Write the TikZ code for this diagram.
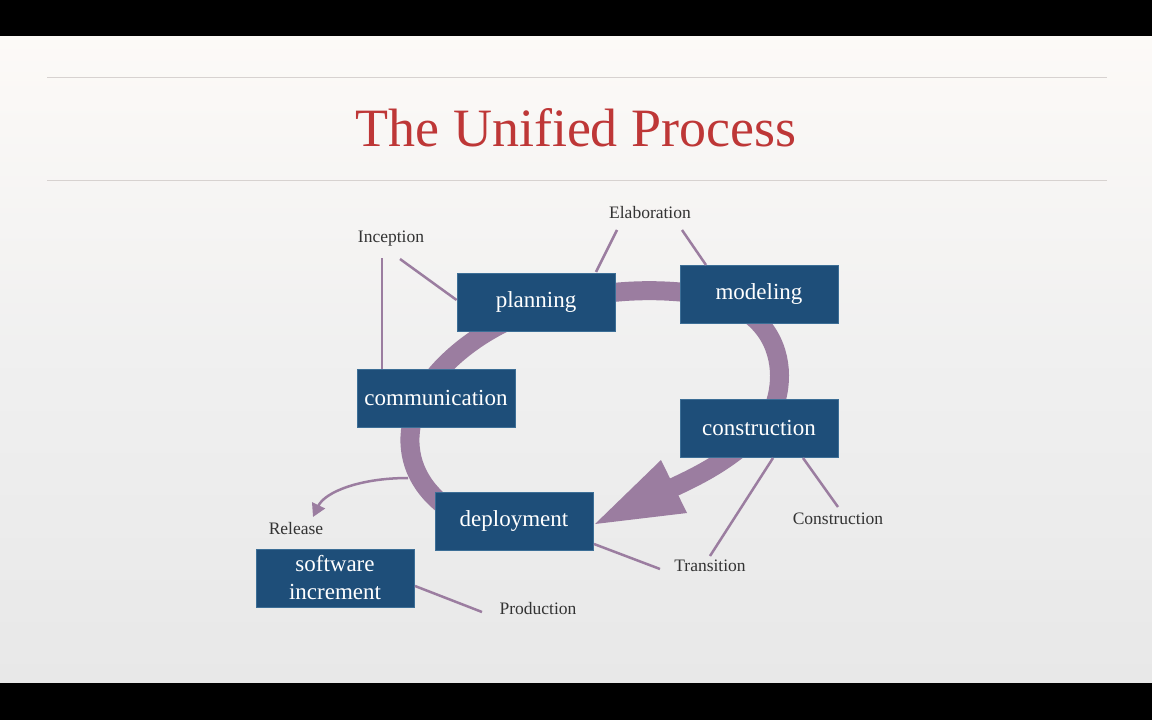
\documentclass[tikz,border=0pt]{standalone}
\usepackage{fontspec}
\setmainfont{Liberation Serif}
\usetikzlibrary{arrows.meta}
\definecolor{boxblue}{RGB}{30,78,121}
\definecolor{boxedge}{RGB}{60,110,150}
\definecolor{lila}{RGB}{155,125,160}
\definecolor{titlered}{RGB}{190,55,55}
\definecolor{rulegray}{RGB}{215,210,208}
\begin{document}
\begin{tikzpicture}[x=1pt,y=-1pt,
  box/.style={fill=boxblue,draw=boxedge,line width=0.8pt,text=white,minimum width=158pt,minimum height=58pt,inner sep=0pt,align=center,font=\fontsize{23}{28}\selectfont},
  lbl/.style={text=black!80,font=\fontsize{17.5}{20}\selectfont,inner sep=1pt},
  conn/.style={draw=lila,line width=2.5pt}]
\useasboundingbox (0,0) rectangle (1152,720);
\shade[top color=white!96!brown, bottom color=gray!18, middle color=gray!12] (0,36) rectangle (1152,683);
\fill[black] (0,0) rectangle (1152,36);
\fill[black] (0,683) rectangle (1152,720);
\coordinate (r1a) at (47,77); \coordinate (r1b) at (1107,77);
\coordinate (r2a) at (47,180); \coordinate (r2b) at (1107,180);
\draw[rulegray,line width=0.8pt] (r1a)--(r1b) (r2a)--(r2b);
\node[text=titlered,font=\fontsize{54}{58}\selectfont] (title) at (576,128) {The Unified Process};
% big loop
\coordinate (tip) at (595,524);
\coordinate (hb1) at (661,460);
\coordinate (hb2) at (687,513);
\draw[lila,line width=19pt] (478,525) .. controls (395,490) and (395,420) .. (440,370)
  .. controls (500,305) and (600,285) .. (680,292)
  .. controls (800,300) and (790,400) .. (760,430)
  .. controls (730,460) and (700,475) .. (672,488);
\fill[lila] (tip)--(hb1)--(hb2)--cycle;
% release arrow
\coordinate (rs) at (408,478);
\coordinate (re) at (313,517);
\draw[lila,line width=2.5pt,-{Triangle[length=13pt,width=14pt]}] (rs) .. controls (360,478) and (325,492) .. (re);
% boxes
\node[box] (plan) at (536,302) {planning};
\node[box] (model) at (759,294) {modeling};
\node[box] (comm) at (436,398) {communication};
\node[box] (cons) at (759,428) {construction};
\node[box] (dep) at (514,521) {deployment};
\node[box] (soft) at (335,578) {software\\increment};
% labels
\node[lbl] (inc) at (391,239) {Inception};
\node[lbl] (ela) at (650,213) {Elaboration};
\node[lbl] (con) at (838,519) {Construction};
\node[lbl] (tra) at (710,566) {Transition};
\node[lbl] (pro) at (538,609) {Production};
\node[lbl] (rel) at (296,529) {Release};
% connectors
\coordinate (i1) at (382,258); \coordinate (i2) at (400,259);
\draw[conn] (i1)--(comm.north west -| i1);
\draw[conn] (i2)--(plan.west |- 0,300);
\coordinate (e1) at (617,230); \coordinate (e2) at (682,230);
\draw[conn] (e1)--(596,272);
\draw[conn] (e2)--(706,265);
\draw[conn] (803,458)--(838,507);
\draw[conn] (773,458)--(710,556);
\draw[conn] (594,544)--(660,569);
\draw[conn] (415,586)--(482,612);
\end{tikzpicture}
\end{document}
